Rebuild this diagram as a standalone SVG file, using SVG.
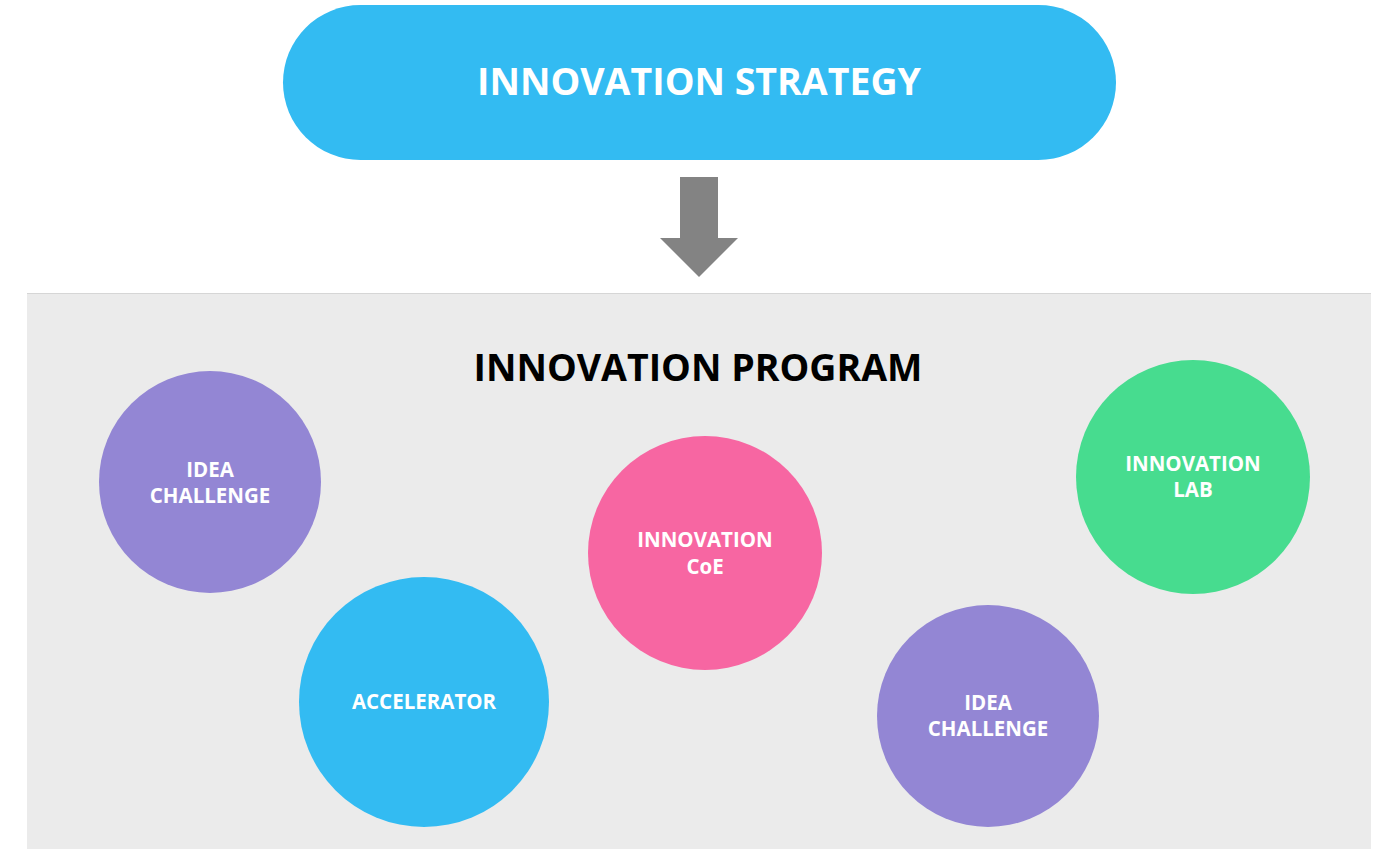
<svg xmlns="http://www.w3.org/2000/svg" width="1400" height="854" viewBox="0 0 1400 854">
<style>
.lbl{font-family:"Open Sans","Noto Sans","Liberation Sans",sans-serif;font-weight:bold;fill:#ffffff;text-anchor:middle;font-size:20.5px}
.big{font-family:"Open Sans","Noto Sans","Liberation Sans",sans-serif;font-weight:bold;text-anchor:middle;font-size:37.5px}
</style>
<rect width="1400" height="854" fill="#ffffff"/>
<g id="strategy">
<rect x="283" y="5" width="833" height="155" rx="77.5" fill="#33bbf2"/>
<text class="big" x="699" y="95" fill="#ffffff">INNOVATION STRATEGY</text>
</g>
<g id="connectors">
<polygon points="680,177 718,177 718,238 738,238 699,277 660,238 680,238" fill="#838383"/>
</g>
<g id="program">
<rect x="27" y="293" width="1344" height="556" fill="#ebebeb"/>
<line x1="27" y1="293.5" x2="1371" y2="293.5" stroke="#d6d6d6" stroke-width="1"/>
<text class="big" x="698" y="381" fill="#000000">INNOVATION PROGRAM</text>
</g>
<g id="idea1">
<circle cx="210" cy="482" r="111" fill="#9386d4"/>
<text class="lbl" x="210" y="477">IDEA</text>
<text class="lbl" x="210" y="503">CHALLENGE</text>
</g>
<g id="accelerator">
<circle cx="424" cy="702" r="125" fill="#33bbf2"/>
<text class="lbl" x="424" y="709">ACCELERATOR</text>
</g>
<g id="coe">
<circle cx="705" cy="553" r="117" fill="#f766a2"/>
<text class="lbl" x="705" y="547">INNOVATION</text>
<text class="lbl" x="705" y="574">CoE</text>
</g>
<g id="idea2">
<circle cx="988" cy="716" r="111" fill="#9386d4"/>
<text class="lbl" x="988" y="710">IDEA</text>
<text class="lbl" x="988" y="736">CHALLENGE</text>
</g>
<g id="lab">
<circle cx="1193" cy="477" r="117" fill="#47dc8f"/>
<text class="lbl" x="1193" y="471">INNOVATION</text>
<text class="lbl" x="1193" y="497">LAB</text>
</g>
</svg>
